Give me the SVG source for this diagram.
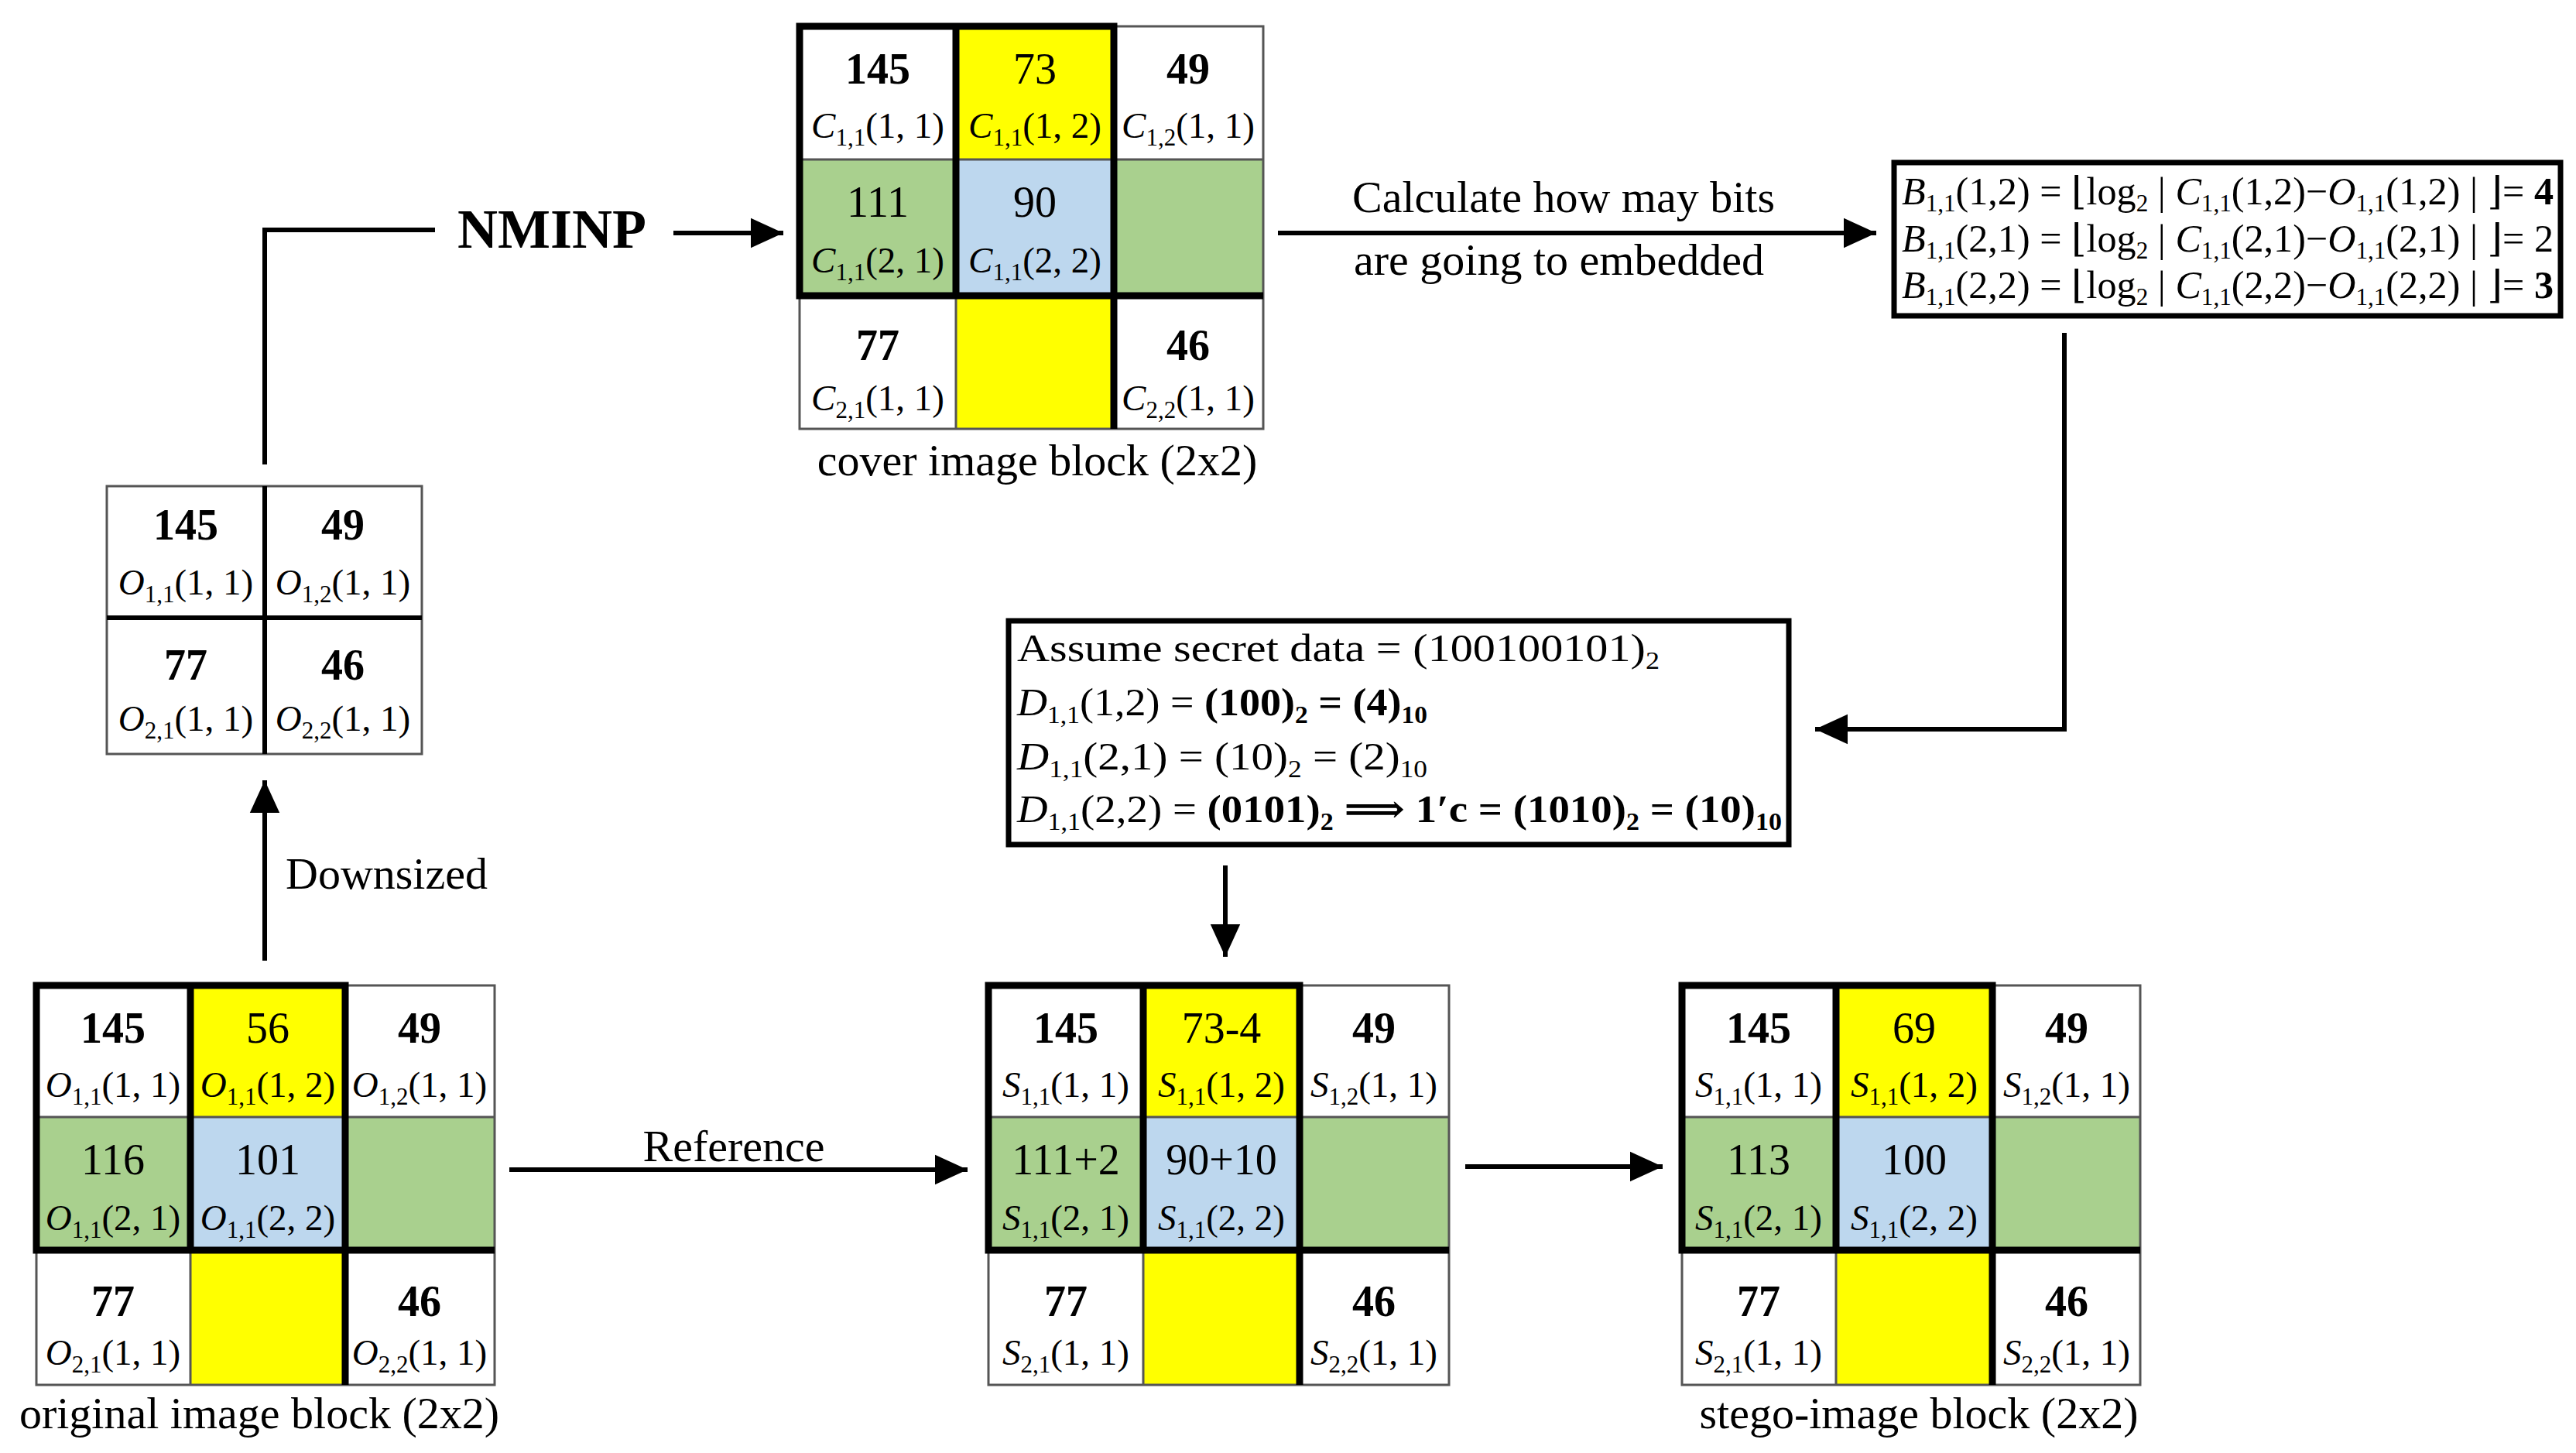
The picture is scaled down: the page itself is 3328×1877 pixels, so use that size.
<svg xmlns="http://www.w3.org/2000/svg" width="3328" height="1877" viewBox="0 0 3328 1877">
<style>
text{font-family:"Liberation Serif","DejaVu Serif",serif;fill:#000}
.n{font-size:56px;text-anchor:middle}
.b{font-weight:bold}
.l{font-size:47px;text-anchor:middle}
.i{font-style:italic}
.s{font-size:31px}
.w{fill:#fff}.y{fill:#ffff00}.g{fill:#a9d08e}.u{fill:#bdd7ee}
.thin{fill:none;stroke:#555;stroke-width:3}
.thk{fill:none;stroke:#000;stroke-width:9}
.cap{font-size:58px;text-anchor:middle}
.con{fill:none;stroke:#000;stroke-width:6}
.eq{font-size:50px}
</style>
<defs><marker id="ah" markerWidth="8" markerHeight="8" refX="7" refY="4" orient="auto" markerUnits="strokeWidth"><path d="M0,0.8 L7,4 L0,7.2 z" fill="#000"/></marker></defs>

<g id="cover">
<rect class="w" x="1033" y="34" width="599" height="520"/>
<rect class="y" x="1235" y="34" width="204" height="172"/>
<rect class="g" x="1033" y="206" width="202" height="176"/>
<rect class="u" x="1235" y="206" width="204" height="176"/>
<rect class="g" x="1439" y="206" width="193" height="176"/>
<rect class="y" x="1235" y="382" width="204" height="172"/>
<path class="thin" d="M1033,34H1632V554H1033ZM1235,34V554M1033,206H1632"/>
<path class="thk" d="M1033,34H1439V382H1033ZM1235,34V382M1439,382H1632M1439,382V554"/>
<text class="n b" x="1134" y="108">145</text><text class="n" x="1337" y="108">73</text><text class="n b" x="1535" y="108">49</text>
<text class="l" x="1134" y="178"><tspan class="i">C</tspan><tspan class="s" dy="10">1,1</tspan><tspan dy="-10">(1, 1)</tspan></text>
<text class="l" x="1337" y="178"><tspan class="i">C</tspan><tspan class="s" dy="10">1,1</tspan><tspan dy="-10">(1, 2)</tspan></text>
<text class="l" x="1535" y="178"><tspan class="i">C</tspan><tspan class="s" dy="10">1,2</tspan><tspan dy="-10">(1, 1)</tspan></text>
<text class="n" x="1134" y="280">111</text><text class="n" x="1337" y="280">90</text>
<text class="l" x="1134" y="352"><tspan class="i">C</tspan><tspan class="s" dy="10">1,1</tspan><tspan dy="-10">(2, 1)</tspan></text>
<text class="l" x="1337" y="352"><tspan class="i">C</tspan><tspan class="s" dy="10">1,1</tspan><tspan dy="-10">(2, 2)</tspan></text>
<text class="n b" x="1134" y="465">77</text><text class="n b" x="1535" y="465">46</text>
<text class="l" x="1134" y="530"><tspan class="i">C</tspan><tspan class="s" dy="10">2,1</tspan><tspan dy="-10">(1, 1)</tspan></text>
<text class="l" x="1535" y="530"><tspan class="i">C</tspan><tspan class="s" dy="10">2,2</tspan><tspan dy="-10">(1, 1)</tspan></text>
<text class="cap" x="1340" y="614">cover image block (2x2)</text>
</g>

<g id="original">
<rect class="w" x="47" y="1273" width="592" height="516"/>
<rect class="y" x="246" y="1273" width="200" height="170"/>
<rect class="g" x="47" y="1443" width="199" height="172"/>
<rect class="u" x="246" y="1443" width="200" height="172"/>
<rect class="g" x="446" y="1443" width="193" height="172"/>
<rect class="y" x="246" y="1615" width="200" height="174"/>
<path class="thin" d="M47,1273H639V1789H47ZM246,1273V1789M47,1443H639"/>
<path class="thk" d="M47,1273H446V1615H47ZM246,1273V1615M446,1615H639M446,1615V1789"/>
<text class="n b" x="146" y="1347">145</text><text class="n" x="346" y="1347">56</text><text class="n b" x="542" y="1347">49</text>
<text class="l" x="146" y="1417"><tspan class="i">O</tspan><tspan class="s" dy="10">1,1</tspan><tspan dy="-10">(1, 1)</tspan></text>
<text class="l" x="346" y="1417"><tspan class="i">O</tspan><tspan class="s" dy="10">1,1</tspan><tspan dy="-10">(1, 2)</tspan></text>
<text class="l" x="542" y="1417"><tspan class="i">O</tspan><tspan class="s" dy="10">1,2</tspan><tspan dy="-10">(1, 1)</tspan></text>
<text class="n" x="146" y="1517">116</text><text class="n" x="346" y="1517">101</text>
<text class="l" x="146" y="1589"><tspan class="i">O</tspan><tspan class="s" dy="10">1,1</tspan><tspan dy="-10">(2, 1)</tspan></text>
<text class="l" x="346" y="1589"><tspan class="i">O</tspan><tspan class="s" dy="10">1,1</tspan><tspan dy="-10">(2, 2)</tspan></text>
<text class="n b" x="146" y="1700">77</text><text class="n b" x="542" y="1700">46</text>
<text class="l" x="146" y="1763"><tspan class="i">O</tspan><tspan class="s" dy="10">2,1</tspan><tspan dy="-10">(1, 1)</tspan></text>
<text class="l" x="542" y="1763"><tspan class="i">O</tspan><tspan class="s" dy="10">2,2</tspan><tspan dy="-10">(1, 1)</tspan></text>
<text class="cap" x="335" y="1845">original image block (2x2)</text>
</g>

<g id="embedding">
<rect class="w" x="1277" y="1273" width="595" height="516"/>
<rect class="y" x="1477" y="1273" width="202" height="170"/>
<rect class="g" x="1277" y="1443" width="200" height="172"/>
<rect class="u" x="1477" y="1443" width="202" height="172"/>
<rect class="g" x="1679" y="1443" width="193" height="172"/>
<rect class="y" x="1477" y="1615" width="202" height="174"/>
<path class="thin" d="M1277,1273H1872V1789H1277ZM1477,1273V1789M1277,1443H1872"/>
<path class="thk" d="M1277,1273H1679V1615H1277ZM1477,1273V1615M1679,1615H1872M1679,1615V1789"/>
<text class="n b" x="1377" y="1347">145</text><text class="n" x="1578" y="1347">73-4</text><text class="n b" x="1775" y="1347">49</text>
<text class="l" x="1377" y="1417"><tspan class="i">S</tspan><tspan class="s" dy="10">1,1</tspan><tspan dy="-10">(1, 1)</tspan></text>
<text class="l" x="1578" y="1417"><tspan class="i">S</tspan><tspan class="s" dy="10">1,1</tspan><tspan dy="-10">(1, 2)</tspan></text>
<text class="l" x="1775" y="1417"><tspan class="i">S</tspan><tspan class="s" dy="10">1,2</tspan><tspan dy="-10">(1, 1)</tspan></text>
<text class="n" x="1377" y="1517">111+2</text><text class="n" x="1578" y="1517">90+10</text>
<text class="l" x="1377" y="1589"><tspan class="i">S</tspan><tspan class="s" dy="10">1,1</tspan><tspan dy="-10">(2, 1)</tspan></text>
<text class="l" x="1578" y="1589"><tspan class="i">S</tspan><tspan class="s" dy="10">1,1</tspan><tspan dy="-10">(2, 2)</tspan></text>
<text class="n b" x="1377" y="1700">77</text><text class="n b" x="1775" y="1700">46</text>
<text class="l" x="1377" y="1763"><tspan class="i">S</tspan><tspan class="s" dy="10">2,1</tspan><tspan dy="-10">(1, 1)</tspan></text>
<text class="l" x="1775" y="1763"><tspan class="i">S</tspan><tspan class="s" dy="10">2,2</tspan><tspan dy="-10">(1, 1)</tspan></text>
</g>

<g id="stego">
<rect class="w" x="2173" y="1273" width="592" height="516"/>
<rect class="y" x="2372" y="1273" width="202" height="170"/>
<rect class="g" x="2173" y="1443" width="199" height="172"/>
<rect class="u" x="2372" y="1443" width="202" height="172"/>
<rect class="g" x="2574" y="1443" width="191" height="172"/>
<rect class="y" x="2372" y="1615" width="202" height="174"/>
<path class="thin" d="M2173,1273H2765V1789H2173ZM2372,1273V1789M2173,1443H2765"/>
<path class="thk" d="M2173,1273H2574V1615H2173ZM2372,1273V1615M2574,1615H2765M2574,1615V1789"/>
<text class="n b" x="2272" y="1347">145</text><text class="n" x="2473" y="1347">69</text><text class="n b" x="2670" y="1347">49</text>
<text class="l" x="2272" y="1417"><tspan class="i">S</tspan><tspan class="s" dy="10">1,1</tspan><tspan dy="-10">(1, 1)</tspan></text>
<text class="l" x="2473" y="1417"><tspan class="i">S</tspan><tspan class="s" dy="10">1,1</tspan><tspan dy="-10">(1, 2)</tspan></text>
<text class="l" x="2670" y="1417"><tspan class="i">S</tspan><tspan class="s" dy="10">1,2</tspan><tspan dy="-10">(1, 1)</tspan></text>
<text class="n" x="2272" y="1517">113</text><text class="n" x="2473" y="1517">100</text>
<text class="l" x="2272" y="1589"><tspan class="i">S</tspan><tspan class="s" dy="10">1,1</tspan><tspan dy="-10">(2, 1)</tspan></text>
<text class="l" x="2473" y="1589"><tspan class="i">S</tspan><tspan class="s" dy="10">1,1</tspan><tspan dy="-10">(2, 2)</tspan></text>
<text class="n b" x="2272" y="1700">77</text><text class="n b" x="2670" y="1700">46</text>
<text class="l" x="2272" y="1763"><tspan class="i">S</tspan><tspan class="s" dy="10">2,1</tspan><tspan dy="-10">(1, 1)</tspan></text>
<text class="l" x="2670" y="1763"><tspan class="i">S</tspan><tspan class="s" dy="10">2,2</tspan><tspan dy="-10">(1, 1)</tspan></text>
<text class="cap" x="2479" y="1845">stego-image block (2x2)</text>
</g>

<g id="downsized">
<rect class="w" x="138" y="628" width="407" height="346"/>
<path class="thin" d="M138,628H545V974H138Z"/>
<path class="con" d="M342,628V974M138,798H545"/>
<text class="n b" x="240" y="697">145</text><text class="n b" x="443" y="697">49</text>
<text class="l" x="240" y="768"><tspan class="i">O</tspan><tspan class="s" dy="10">1,1</tspan><tspan dy="-10">(1, 1)</tspan></text>
<text class="l" x="443" y="768"><tspan class="i">O</tspan><tspan class="s" dy="10">1,2</tspan><tspan dy="-10">(1, 1)</tspan></text>
<text class="n b" x="240" y="878">77</text><text class="n b" x="443" y="878">46</text>
<text class="l" x="240" y="944"><tspan class="i">O</tspan><tspan class="s" dy="10">2,1</tspan><tspan dy="-10">(1, 1)</tspan></text>
<text class="l" x="443" y="944"><tspan class="i">O</tspan><tspan class="s" dy="10">2,2</tspan><tspan dy="-10">(1, 1)</tspan></text>
</g>

<g id="bits">
<rect x="2447" y="210" width="861" height="198" fill="#fff" stroke="#000" stroke-width="7"/>
<text class="eq" x="2457" y="264" textLength="842" lengthAdjust="spacingAndGlyphs"><tspan class="i">B</tspan><tspan class="s" dy="9">1,1</tspan><tspan dy="-9">(1,2) = ⌊log</tspan><tspan class="s" dy="9">2</tspan><tspan dy="-9"> | </tspan><tspan class="i">C</tspan><tspan class="s" dy="9">1,1</tspan><tspan dy="-9">(1,2)−</tspan><tspan class="i">O</tspan><tspan class="s" dy="9">1,1</tspan><tspan dy="-9">(1,2) | ⌋= </tspan><tspan class="b">4</tspan></text>
<text class="eq" x="2457" y="325" textLength="842" lengthAdjust="spacingAndGlyphs"><tspan class="i">B</tspan><tspan class="s" dy="9">1,1</tspan><tspan dy="-9">(2,1) = ⌊log</tspan><tspan class="s" dy="9">2</tspan><tspan dy="-9"> | </tspan><tspan class="i">C</tspan><tspan class="s" dy="9">1,1</tspan><tspan dy="-9">(2,1)−</tspan><tspan class="i">O</tspan><tspan class="s" dy="9">1,1</tspan><tspan dy="-9">(2,1) | ⌋= 2</tspan></text>
<text class="eq" x="2457" y="385" textLength="842" lengthAdjust="spacingAndGlyphs"><tspan class="i">B</tspan><tspan class="s" dy="9">1,1</tspan><tspan dy="-9">(2,2) = ⌊log</tspan><tspan class="s" dy="9">2</tspan><tspan dy="-9"> | </tspan><tspan class="i">C</tspan><tspan class="s" dy="9">1,1</tspan><tspan dy="-9">(2,2)−</tspan><tspan class="i">O</tspan><tspan class="s" dy="9">1,1</tspan><tspan dy="-9">(2,2) | ⌋= </tspan><tspan class="b">3</tspan></text>
</g>

<g id="secret">
<rect x="1303" y="802" width="1008" height="289" fill="#fff" stroke="#000" stroke-width="7"/>
<text class="eq" x="1314" y="854" textLength="830" lengthAdjust="spacingAndGlyphs">Assume secret data = (100100101)<tspan class="s" dy="10">2</tspan></text>
<text class="eq" x="1314" y="924" textLength="530" lengthAdjust="spacingAndGlyphs"><tspan class="i">D</tspan><tspan class="s" dy="10">1,1</tspan><tspan dy="-10">(1,2) = </tspan><tspan class="b">(100)</tspan><tspan class="s b" dy="10">2</tspan><tspan class="b" dy="-10"> = (4)</tspan><tspan class="s b" dy="10">10</tspan></text>
<text class="eq" x="1314" y="994" textLength="530" lengthAdjust="spacingAndGlyphs"><tspan class="i">D</tspan><tspan class="s" dy="10">1,1</tspan><tspan dy="-10">(2,1) = (10)</tspan><tspan class="s" dy="10">2</tspan><tspan dy="-10"> = (2)</tspan><tspan class="s" dy="10">10</tspan></text>
<text class="eq" x="1314" y="1062" textLength="988" lengthAdjust="spacingAndGlyphs"><tspan class="i">D</tspan><tspan class="s" dy="10">1,1</tspan><tspan dy="-10">(2,2) = </tspan><tspan class="b">(0101)</tspan><tspan class="s b" dy="10">2</tspan><tspan class="b" dy="-10"> ⟹ 1′c = (1010)</tspan><tspan class="s b" dy="10">2</tspan><tspan class="b" dy="-10"> = (10)</tspan><tspan class="s b" dy="10">10</tspan></text>
</g>

<g id="connectors">
<path class="con" d="M342,600V297H562"/>
<text x="713" y="320" font-size="72" font-weight="bold" text-anchor="middle">NMINP</text>
<path class="con" d="M870,301H1012" marker-end="url(#ah)"/>
<path class="con" d="M1651,301H2424" marker-end="url(#ah)"/>
<text class="cap" x="2020" y="274">Calculate how may bits</text>
<text class="cap" x="2014" y="355">are going to embedded</text>
<path class="con" d="M2667,430V942H2345" marker-end="url(#ah)"/>
<path class="con" d="M1583,1118V1236" marker-end="url(#ah)"/>
<path class="con" d="M342,1241V1008" marker-end="url(#ah)"/>
<text x="369" y="1148" font-size="58">Downsized</text>
<path class="con" d="M658,1511H1250" marker-end="url(#ah)"/>
<text class="cap" x="948" y="1500">Reference</text>
<path class="con" d="M1893,1507H2148" marker-end="url(#ah)"/>
</g>
</svg>
